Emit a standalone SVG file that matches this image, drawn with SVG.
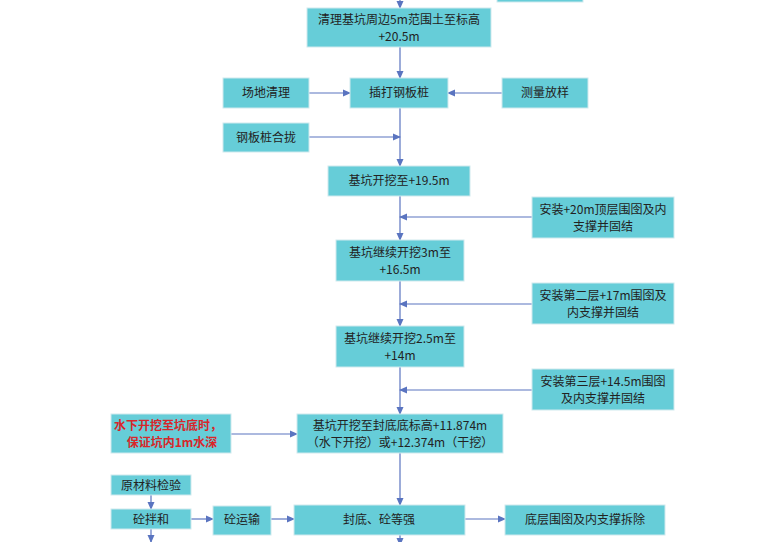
<svg xmlns="http://www.w3.org/2000/svg" width="760" height="542" viewBox="0 0 760 542">
<style>
rect{fill:#66cdd8;stroke:#cfe9ee;stroke-width:1}
text{font-family:"Noto Sans CJK SC","Liberation Serif",serif;font-size:12px;fill:#222;text-anchor:middle}
.r{fill:#d8262a;font-weight:bold}
line{stroke:#5a74c0;stroke-width:1.2;marker-end:url(#a)}
</style>
<defs><marker id="a" markerWidth="8" markerHeight="8" refX="7" refY="4" orient="auto" markerUnits="userSpaceOnUse"><path d="M0,0.5L8,4L0,7.5z" fill="#5a74c0"/></marker></defs>
<rect width="760" height="542" style="fill:#fff;stroke:none"/>
<g id="connectors">
<line x1="400" y1="0" x2="400" y2="8"/>
<line x1="400" y1="47" x2="400" y2="78"/>
<line x1="309" y1="93" x2="350" y2="93"/>
<line x1="502" y1="93" x2="448" y2="93"/>
<line x1="400" y1="108" x2="400" y2="166"/>
<line x1="309" y1="137" x2="400" y2="137"/>
<line x1="400" y1="196" x2="400" y2="240"/>
<line x1="532" y1="217" x2="400" y2="217"/>
<line x1="400" y1="281" x2="400" y2="326"/>
<line x1="532" y1="304" x2="400" y2="304"/>
<line x1="400" y1="367" x2="400" y2="414"/>
<line x1="532" y1="390" x2="400" y2="390"/>
<line x1="231" y1="434" x2="297" y2="434"/>
<line x1="400" y1="453" x2="400" y2="505"/>
<line x1="151" y1="495" x2="151" y2="509"/>
<line x1="151" y1="529" x2="151" y2="542"/>
<line x1="191" y1="519" x2="213" y2="519"/>
<line x1="271" y1="519" x2="294" y2="519"/>
<line x1="465" y1="519" x2="505" y2="519"/>
<line x1="400" y1="535" x2="400" y2="545"/>
</g>
<g id="n0"><rect x="497" y="-10" width="86" height="12"/></g>
<g id="n1"><rect x="307" y="8" width="184" height="39"/><text x="399" y="24">清理基坑周边5m范围土至标高</text><text x="399" y="41">+20.5m</text></g>
<g id="n2"><rect x="223" y="78" width="86" height="30"/><text x="266" y="97">场地清理</text></g>
<g id="n3"><rect x="350" y="78" width="98" height="30"/><text x="399" y="97">插打钢板桩</text></g>
<g id="n4"><rect x="502" y="78" width="86" height="30"/><text x="545" y="97">测量放样</text></g>
<g id="n5"><rect x="223" y="123" width="86" height="29"/><text x="266" y="142">钢板桩合拢</text></g>
<g id="n6"><rect x="328" y="166" width="142" height="30"/><text x="399" y="185">基坑开挖至+19.5m</text></g>
<g id="n7"><rect x="532" y="197" width="142" height="41"/><text x="603" y="214">安装+20m顶层围囹及内</text><text x="603" y="231">支撑并固结</text></g>
<g id="n8"><rect x="336" y="240" width="128" height="41"/><text x="400" y="257">基坑继续开挖3m至</text><text x="400" y="274">+16.5m</text></g>
<g id="n9"><rect x="532" y="283" width="142" height="41"/><text x="603" y="300">安装第二层+17m围囹及</text><text x="603" y="317">内支撑并固结</text></g>
<g id="n10"><rect x="336" y="326" width="128" height="41"/><text x="400" y="343">基坑继续开挖2.5m至</text><text x="400" y="360">+14m</text></g>
<g id="n11"><rect x="532" y="369" width="142" height="41"/><text x="603" y="386">安装第三层+14.5m围囹</text><text x="603" y="403">及内支撑并固结</text></g>
<g id="n12"><rect x="111" y="414" width="120" height="39"/><text class="r" x="168" y="430">水下开挖至坑底时，</text><text class="r" x="172" y="447">保证坑内1m水深</text></g>
<g id="n13"><rect x="297" y="414" width="206" height="39"/><text x="400" y="430">基坑开挖至封底底标高+11.874m</text><text x="400" y="447">（水下开挖）或+12.374m（干挖）</text></g>
<g id="n14"><rect x="111" y="475" width="80" height="20"/><text x="151" y="490">原材料检验</text></g>
<g id="n15"><rect x="111" y="509" width="80" height="20"/><text x="151" y="524">砼拌和</text></g>
<g id="n16"><rect x="213" y="506" width="58" height="29"/><text x="242" y="524">砼运输</text></g>
<g id="n17"><rect x="294" y="505" width="171" height="30"/><text x="379" y="524">封底、砼等强</text></g>
<g id="n18"><rect x="505" y="505" width="160" height="30"/><text x="585" y="524">底层围囹及内支撑拆除</text></g>
</svg>
